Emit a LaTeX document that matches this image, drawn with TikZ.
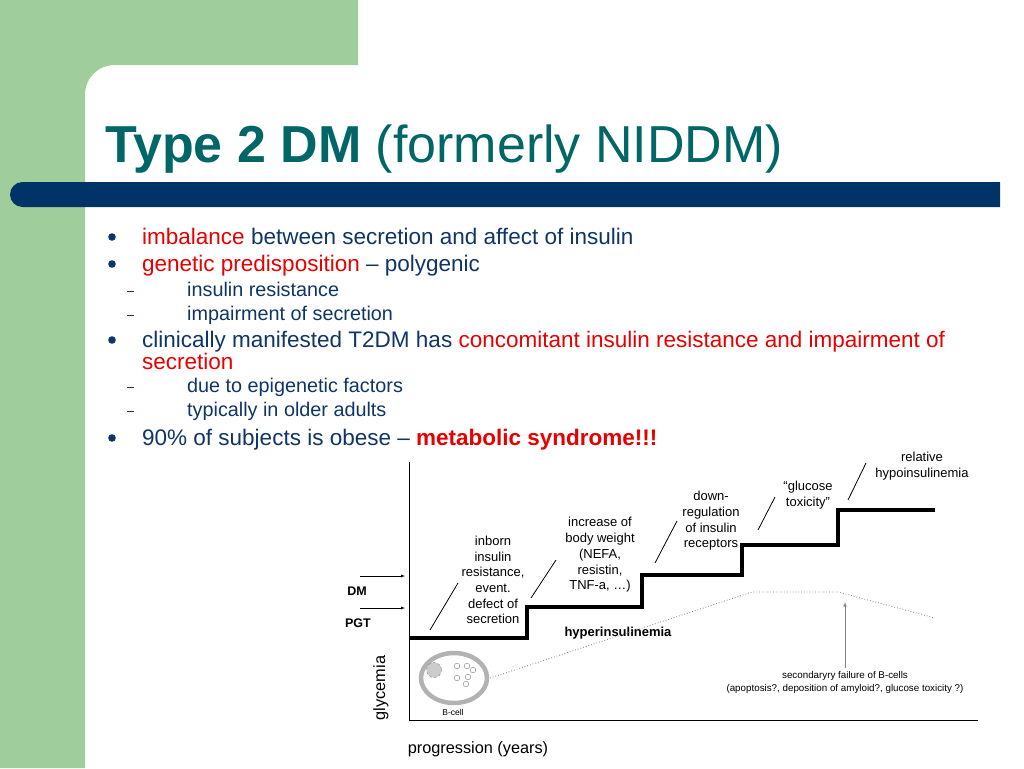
\documentclass[tikz,border=0pt]{standalone}
\usepackage{fontspec}
\setmainfont{Liberation Sans}
\usetikzlibrary{positioning}
\definecolor{slidegreen}{HTML}{9FCE9C}
\definecolor{barblue}{HTML}{003466}
\definecolor{titleteal}{HTML}{006666}
\definecolor{textblue}{HTML}{0F3566}
\definecolor{hired}{HTML}{E60000}
\tikzset{
  txt/.style={inner sep=0pt, anchor=base west, text=textblue},
  lab/.style={inner sep=0pt, align=center, font=\fontsize{13}{15.7}\selectfont},
  slant/.style={line width=0.8pt},
  stair/.style={line width=3.5pt},
}
\newcommand{\bfs}{\fontsize{22.5}{26}\selectfont}
\newcommand{\sfs}{\fontsize{19.8}{23}\selectfont}
\begin{document}
\begin{tikzpicture}[x=1pt, y=-1pt]
        \useasboundingbox (0,0) rectangle (1024,768);

        % Sfondo
        \fill[slidegreen] (0,0) -- (358,0) -- (358,65) -- (115,65) .. controls (98,65) and (85,78) .. (85,95) -- (85,768) -- (0,768) -- cycle;
        \fill[barblue] (22.5,182) -- (1000,182) -- (1000,207) -- (22.5,207) arc[start angle=90, end angle=270, radius=12.5] -- cycle;

        % Titolo
        \node[inner sep=0pt, anchor=base west, text=titleteal, font=\fontsize{52}{58}\selectfont] (title) at (105,162) {\textbf{Type 2 DM} (formerly NIDDM)};

        % Punti
        \foreach \y in {237,264,340,438}
            \fill[textblue] (112,\y) circle (3.8pt);
        \foreach \y in {290,314,386,410}
            \draw[textblue, line width=0.7pt] (127,\y+1) -- (134,\y+1);
        \node[txt, font=\bfs] (b1) at (142,244) {\textcolor{hired}{imbalance} between secretion and affect of insulin};
        \node[txt, font=\bfs] (b2) at (142,271) {\textcolor{hired}{genetic predisposition} – polygenic};
        \node[txt, font=\sfs] (b2a) at (187,296) {insulin resistance};
        \node[txt, font=\sfs] (b2b) at (187,320) {impairment of secretion};
        \node[txt, font=\bfs] (b3) at (142,347) {clinically manifested T2DM has \textcolor{hired}{concomitant insulin resistance and impairment of}};
        \node[txt, font=\bfs] (b3x) at (142,369) {\textcolor{hired}{secretion}};
        \node[txt, font=\sfs] (b3a) at (187,392) {due to epigenetic factors};
        \node[txt, font=\sfs] (b3b) at (187,416) {typically in older adults};
        \node[txt, font=\bfs] (b4) at (142,445) {90\% of subjects is obese – \textcolor{hired}{\textbf{metabolic syndrome!!!}}};

        % Assi
        \coordinate (top) at (409,462);
        \coordinate (orig) at (409,720);
        \coordinate (xend) at (978,720);
        \draw[line width=0.8pt] (top) -- (orig) -- (xend);
        \node[inner sep=0pt, rotate=90, font=\fontsize{16.3}{19}\selectfont] (ylab) at (381,688) {glycemia};
        \node[inner sep=0pt, font=\fontsize{16.3}{19}\selectfont] (xlab) at (478,749) {progression (years)};

        % Gradini
        \draw[stair] (409,638) -- (527,638) -- (527,607) -- (642,607) -- (642,575) -- (742,575) -- (742,545) -- (838,545) -- (838,510) -- (935,510);

        % DM e PGT
        \coordinate (dmA) at (360,576);
        \coordinate (dmB) at (405,576);
        \coordinate (pgtA) at (360,608);
        \coordinate (pgtB) at (405,608);
        \draw[-latex, thin] (dmA) -- (dmB);
        \draw[-latex, thin] (pgtA) -- (pgtB);
        \node[inner sep=0pt, font=\fontsize{12.5}{14}\selectfont\bfseries] (dm) at (357,591) {DM};
        \node[inner sep=0pt, font=\fontsize{12.5}{14}\selectfont\bfseries] (pgt) at (358,623) {PGT};

        % Etichette dei gradini
        \node[lab] (l1) at (493,580) {inborn\\insulin\\resistance,\\event.\\defect of\\secretion};
        \node[lab] (l2) at (600,555) {increase of\\body weight\\(NEFA,\\resistin,\\TNF-a, …)};
        \node[lab] (l3) at (711,521) {down-\\regulation\\of insulin\\receptors};
        \node[lab] (l4) at (808,495) {“glucose\\toxicity”};
        \node[lab] (l5) at (922,466) {relative\\hypoinsulinemia};
        \draw[slant] (430,630) -- (458,583);
        \draw[slant] (531,598) -- (556,560);
        \draw[slant] (655,563) -- (677,521);
        \draw[slant] (758,530) -- (775,497);
        \draw[slant] (848,500) -- (866,463);
        \node[inner sep=0pt, font=\fontsize{13}{15}\selectfont\bfseries] (hyper) at (618,633) {hyperinsulinemia};

        % Cellula B
        \draw[gray!60, line width=4.5pt] (454,678) ellipse (33pt and 25pt);
        \filldraw[fill=gray!40, draw=gray, densely dashed, thin] (434,670) circle (7.5pt);
        \foreach \cx/\cy in {457/666, 467/666, 473/670, 457/678, 468/677, 466/684}
            \draw[gray, thin] (\cx,\cy) circle (2.8pt);
        \node[inner sep=0pt, font=\fontsize{8.5}{10}\selectfont] (bcell) at (453,712) {B-cell};

        % Insulina
        \draw[gray, dotted, line width=0.8pt] (490,678) -- (752,592) -- (838,592) -- (935,618);
        \coordinate (failA) at (845,668);
        \coordinate (failB) at (845,602);
        \draw[gray, -latex, line width=0.6pt] (failA) -- (failB);
        \node[lab, font=\fontsize{9.8}{13}\selectfont] (fail) at (845,682) {secondaryry failure of B-cells\\(apoptosis?, deposition of amyloid?, glucose toxicity ?)};
    \end{tikzpicture}
\end{document}
